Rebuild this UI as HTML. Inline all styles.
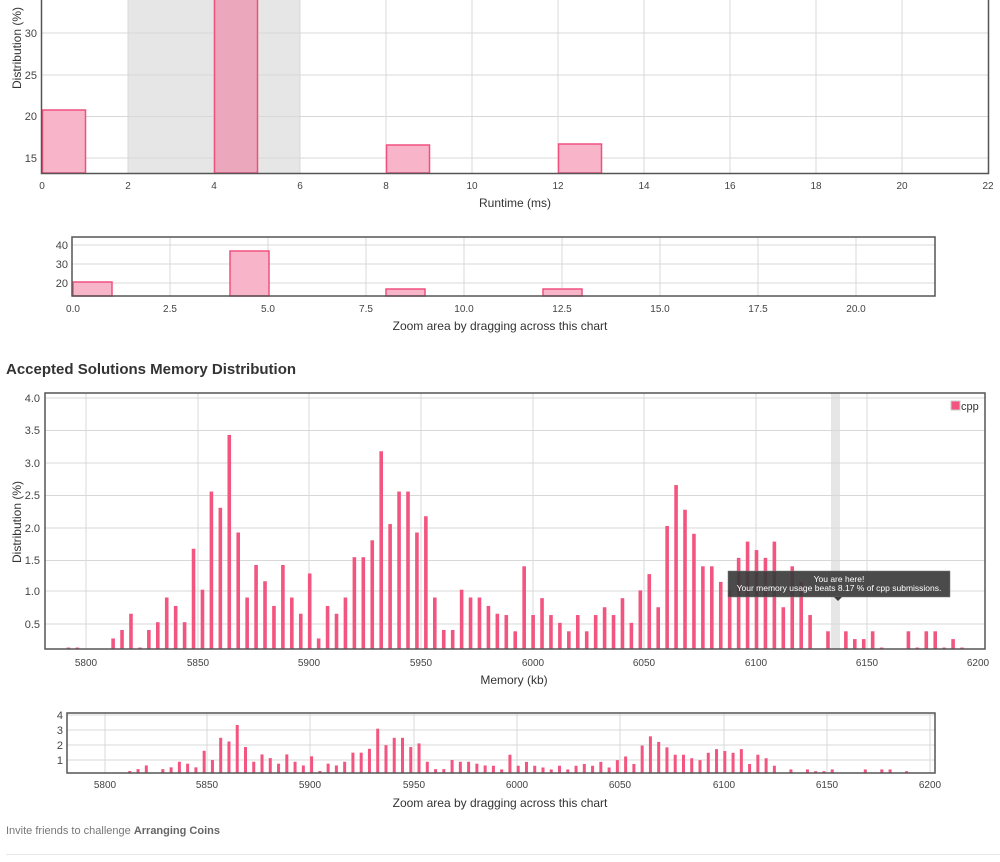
<!DOCTYPE html>
<html><head><meta charset="utf-8"><style>
html,body{margin:0;padding:0;background:#fff;}
svg{display:block;font-family:"Liberation Sans",sans-serif;}
</style></head><body>
<svg id="s" width="1000" height="862" viewBox="0 0 1000 862">
<!-- TOP CHART -->
<rect x="128" y="0" width="172" height="173" fill="#e6e6e6"/>
<g stroke="#d8d8d8" stroke-width="1">
<line x1="42" y1="33" x2="988" y2="33"/><line x1="42" y1="75" x2="988" y2="75"/><line x1="42" y1="116.5" x2="988" y2="116.5"/><line x1="42" y1="158" x2="988" y2="158"/>
<line x1="128" y1="0" x2="128" y2="173"/><line x1="214" y1="0" x2="214" y2="173"/><line x1="300" y1="0" x2="300" y2="173"/><line x1="386" y1="0" x2="386" y2="173"/><line x1="472" y1="0" x2="472" y2="173"/><line x1="558" y1="0" x2="558" y2="173"/><line x1="644" y1="0" x2="644" y2="173"/><line x1="730" y1="0" x2="730" y2="173"/><line x1="816" y1="0" x2="816" y2="173"/><line x1="902" y1="0" x2="902" y2="173"/>
</g>
<g stroke="#f0507f" stroke-width="1.5">
<rect x="42.5" y="110" width="43" height="63" fill="#f8b5ca"/>
<rect x="214.5" y="-2" width="43" height="175" fill="#eba7bb"/>
<rect x="386.5" y="145" width="43" height="28" fill="#f8b5ca"/>
<rect x="558.5" y="144" width="43" height="29" fill="#f8b5ca"/>
</g>
<path d="M41.5 0 V173.5 H988.5 V0" fill="none" stroke="#555" stroke-width="1.5"/>
<g font-size="11" fill="#444" text-anchor="end">
<text x="37" y="37">30</text><text x="37" y="79">25</text><text x="37" y="120">20</text><text x="37" y="162">15</text>
</g>
<text transform="translate(21,48) rotate(-90)" font-size="12" fill="#333" text-anchor="middle">Distribution (%)</text>
<g font-size="10" fill="#444" text-anchor="middle">
<text x="42" y="189">0</text><text x="128" y="189">2</text><text x="214" y="189">4</text><text x="300" y="189">6</text><text x="386" y="189">8</text><text x="472" y="189">10</text><text x="558" y="189">12</text><text x="644" y="189">14</text><text x="730" y="189">16</text><text x="816" y="189">18</text><text x="902" y="189">20</text><text x="988" y="189">22</text>
</g>
<text x="515" y="207" font-size="12" fill="#333" text-anchor="middle">Runtime (ms)</text>

<!-- NAV 1 -->
<g stroke="#d8d8d8">
<line x1="72" y1="245" x2="935" y2="245"/><line x1="72" y1="264" x2="935" y2="264"/><line x1="72" y1="283" x2="935" y2="283"/>
<line x1="170" y1="237" x2="170" y2="296"/><line x1="268" y1="237" x2="268" y2="296"/><line x1="366" y1="237" x2="366" y2="296"/><line x1="464" y1="237" x2="464" y2="296"/><line x1="562" y1="237" x2="562" y2="296"/><line x1="660" y1="237" x2="660" y2="296"/><line x1="758" y1="237" x2="758" y2="296"/><line x1="856" y1="237" x2="856" y2="296"/>
</g>
<g stroke="#f0507f" stroke-width="1.5" fill="#f8b5ca">
<rect x="73" y="282" width="39" height="14"/><rect x="230" y="251" width="39" height="45"/><rect x="386" y="289" width="39" height="7"/><rect x="543" y="289" width="39" height="7"/>
</g>
<rect x="72" y="237" width="863" height="59" fill="none" stroke="#555" stroke-width="1.5"/>
<g font-size="11" fill="#444" text-anchor="end"><text x="68" y="249">40</text><text x="68" y="268">30</text><text x="68" y="287">20</text></g>
<g font-size="10" fill="#444" text-anchor="middle">
<text x="73" y="312">0.0</text><text x="170" y="312">2.5</text><text x="268" y="312">5.0</text><text x="366" y="312">7.5</text><text x="464" y="312">10.0</text><text x="562" y="312">12.5</text><text x="660" y="312">15.0</text><text x="758" y="312">17.5</text><text x="856" y="312">20.0</text>
</g>
<text x="500" y="330" font-size="12" fill="#333" text-anchor="middle">Zoom area by dragging across this chart</text>

<text x="6" y="374" font-size="15" fill="#333" font-weight="bold" style="font-weight:600">Accepted Solutions Memory Distribution</text>

<!-- MEMORY CHART -->
<rect x="831" y="393" width="9" height="256" fill="#e6e6e6"/>
<g stroke="#d8d8d8">
<line x1="45" y1="398" x2="985" y2="398"/><line x1="45" y1="430.5" x2="985" y2="430.5"/><line x1="45" y1="463" x2="985" y2="463"/><line x1="45" y1="495.5" x2="985" y2="495.5"/><line x1="45" y1="528" x2="985" y2="528"/><line x1="45" y1="560.5" x2="985" y2="560.5"/><line x1="45" y1="591" x2="985" y2="591"/><line x1="45" y1="624" x2="985" y2="624"/>
<line x1="86" y1="393" x2="86" y2="649"/><line x1="198" y1="393" x2="198" y2="649"/><line x1="309" y1="393" x2="309" y2="649"/><line x1="421" y1="393" x2="421" y2="649"/><line x1="533" y1="393" x2="533" y2="649"/><line x1="644" y1="393" x2="644" y2="649"/><line x1="756" y1="393" x2="756" y2="649"/><line x1="867" y1="393" x2="867" y2="649"/>
</g>
<g id="mb" fill="#f2557f"></g>
<rect x="45" y="393" width="940" height="256" fill="none" stroke="#555" stroke-width="1.5"/>
<g font-size="11" fill="#444" text-anchor="end">
<text x="40" y="402">4.0</text><text x="40" y="434">3.5</text><text x="40" y="467">3.0</text><text x="40" y="499">2.5</text><text x="40" y="532">2.0</text><text x="40" y="564">1.5</text><text x="40" y="595">1.0</text><text x="40" y="628">0.5</text>
</g>
<text transform="translate(21,522) rotate(-90)" font-size="12" fill="#333" text-anchor="middle">Distribution (%)</text>
<g font-size="10" fill="#444" text-anchor="middle">
<text x="86" y="666">5800</text><text x="198" y="666">5850</text><text x="309" y="666">5900</text><text x="421" y="666">5950</text><text x="533" y="666">6000</text><text x="644" y="666">6050</text><text x="756" y="666">6100</text><text x="867" y="666">6150</text><text x="978" y="666">6200</text>
</g>
<text x="514" y="684" font-size="12" fill="#333" text-anchor="middle">Memory (kb)</text>
<rect x="951" y="401" width="9" height="9" fill="#f2557f" stroke="#ccc"/>
<text x="961" y="410" font-size="11" fill="#333">cpp</text>
<!-- tooltip -->
<rect x="728" y="571" width="222" height="26" fill="#3c3c3c" fill-opacity="0.92" stroke="#777" stroke-width="0.5"/>
<path d="M834 597 L838 601 L842 597 Z" fill="#3c3c3c"/>
<g font-size="8.5" fill="#fff" text-anchor="middle"><text x="839" y="582">You are here!</text><text x="839" y="591">Your memory usage beats 8.17 % of cpp submissions.</text></g>

<!-- NAV 2 -->
<g stroke="#d8d8d8">
<line x1="67" y1="715" x2="935" y2="715"/><line x1="67" y1="730" x2="935" y2="730"/><line x1="67" y1="745" x2="935" y2="745"/><line x1="67" y1="760" x2="935" y2="760"/>
<line x1="105" y1="713" x2="105" y2="773"/><line x1="207" y1="713" x2="207" y2="773"/><line x1="310" y1="713" x2="310" y2="773"/><line x1="414" y1="713" x2="414" y2="773"/><line x1="517" y1="713" x2="517" y2="773"/><line x1="620" y1="713" x2="620" y2="773"/><line x1="724" y1="713" x2="724" y2="773"/><line x1="827" y1="713" x2="827" y2="773"/><line x1="930" y1="713" x2="930" y2="773"/>
</g>
<g id="nb" fill="#f2557f"></g>
<rect x="67" y="713" width="868" height="60" fill="none" stroke="#555" stroke-width="1.5"/>
<g font-size="11" fill="#444" text-anchor="end"><text x="63" y="719">4</text><text x="63" y="734">3</text><text x="63" y="749">2</text><text x="63" y="764">1</text></g>
<g font-size="10" fill="#444" text-anchor="middle">
<text x="105" y="788">5800</text><text x="207" y="788">5850</text><text x="310" y="788">5900</text><text x="414" y="788">5950</text><text x="517" y="788">6000</text><text x="620" y="788">6050</text><text x="724" y="788">6100</text><text x="827" y="788">6150</text><text x="930" y="788">6200</text>
</g>
<text x="500" y="807" font-size="12" fill="#333" text-anchor="middle">Zoom area by dragging across this chart</text>
<text x="6" y="834" font-size="11" fill="#777">Invite friends to challenge <tspan font-weight="bold" fill="#666">Arranging Coins</tspan></text>
<line x1="6" y1="854.5" x2="1000" y2="854.5" stroke="#e8e8e8"/>
</svg>
<script>
var v=[.13,.13,0,0,0,.27,.4,.65,.13,.4,.52,.9,.77,.52,1.65,1.02,2.53,2.28,3.4,1.9,.9,1.4,1.15,.77,1.4,.9,.65,1.27,.27,.77,.65,.9,1.52,1.52,1.78,3.15,2.03,2.53,2.53,1.9,2.15,.9,.4,.4,1.02,.9,.9,.77,.65,.63,.38,1.38,.63,.89,.63,.51,.38,.63,.38,.63,.75,.63,.89,.51,1.01,1.26,.75,2.0,2.63,2.25,1.88,1.38,1.38,1.14,1.01,1.51,1.76,1.63,1.51,1.76,.75,1.38,1.14,.63,0,.38,0,.38,.26,.26,.38,.13,0,0,.38,.13,.38,.38,.13,.26,.13];
var ns="http://www.w3.org/2000/svg",mb=document.getElementById("mb"),nb=document.getElementById("nb");
function r(g,x,y,w,h){var e=document.createElementNS(ns,"rect");e.setAttribute("x",x);e.setAttribute("y",y);e.setAttribute("width",w);e.setAttribute("height",h);g.appendChild(e);}
for(var i=0;i<v.length;i++){if(!v[i])continue;var kb=5792+4*i;
var x=86+(kb-5800)*2.234,y=656-v[i]*65;if(y<649)r(mb,x-1.5,y,3.6,649-y);
var x2=105+(kb-5800)*2.066,y2=775-v[i]*14.7;if(y2<773)r(nb,x2-1.5,y2,3,773-y2);}
</script>
</body></html>
